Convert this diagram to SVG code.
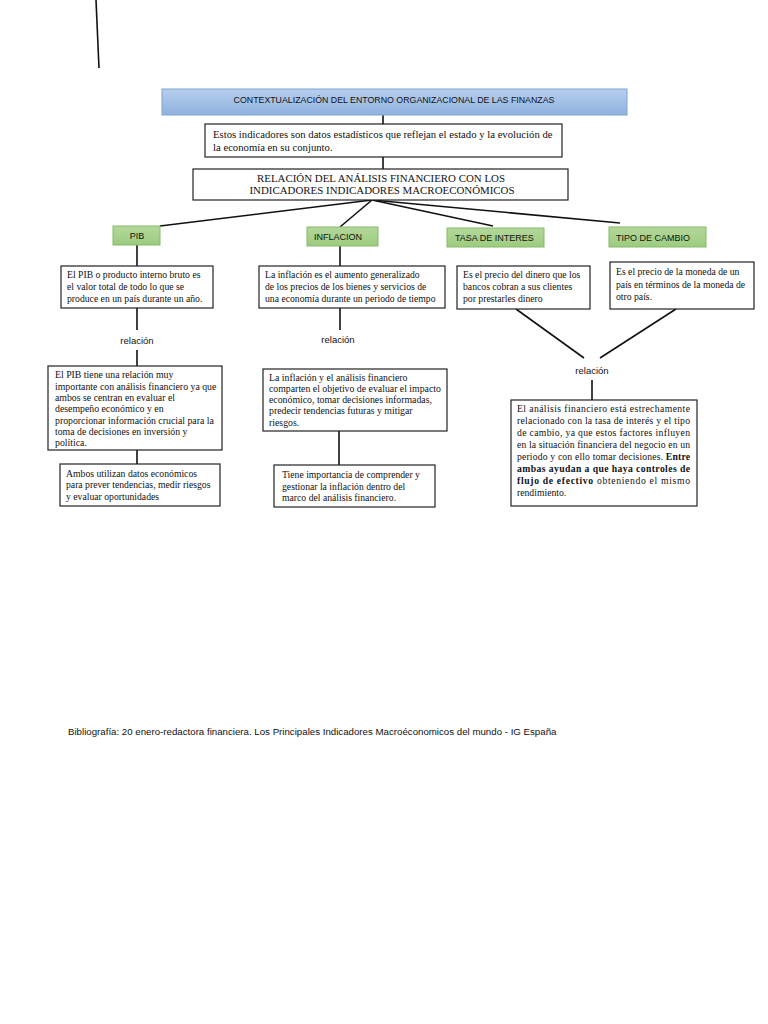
<svg xmlns="http://www.w3.org/2000/svg" width="768" height="1024" viewBox="0 0 768 1024">
<defs>
<linearGradient id="gb" x1="0" y1="0" x2="0" y2="1">
<stop offset="0" stop-color="#b7cfee"/>
<stop offset="1" stop-color="#8fb2e0"/>
</linearGradient>
<linearGradient id="gg" x1="0" y1="0" x2="0" y2="1">
<stop offset="0" stop-color="#b4d89b"/>
<stop offset="1" stop-color="#9ccb7e"/>
</linearGradient>
<style>
.box{fill:#fff;stroke:#222;stroke-width:1.2}
.gbox{fill:url(#gg);stroke:#86b96a;stroke-width:1}
.s{font-family:"Liberation Sans","Open Sans",sans-serif;fill:#111}
.t{font-family:"Liberation Serif","DejaVu Serif",serif;fill:#111;font-size:9.7px}
.c{stroke:#111;stroke-width:1.6;fill:none}
</style>
</defs>
<rect width="768" height="1024" fill="#fff"/>
<line x1="96" y1="0" x2="99" y2="68" stroke="#111" stroke-width="1.6"/>
<g id="connectors">
<line class="c" x1="383" y1="115" x2="383" y2="124"/>
<line class="c" x1="383" y1="157" x2="383" y2="169"/>
<line class="c" x1="372" y1="200" x2="160" y2="226"/>
<line class="c" x1="372" y1="200" x2="340" y2="227"/>
<line class="c" x1="372" y1="200" x2="493" y2="226"/>
<line class="c" x1="372" y1="200" x2="620" y2="223"/>
<line class="c" x1="137" y1="245" x2="137" y2="266"/>
<line class="c" x1="137" y1="308" x2="137" y2="330"/>
<line class="c" x1="137" y1="350" x2="137" y2="366"/>
<line class="c" x1="137" y1="450" x2="137" y2="464"/>
<line class="c" x1="340" y1="246" x2="340" y2="266"/>
<line class="c" x1="340" y1="308" x2="340" y2="330"/>
<line class="c" x1="339" y1="431" x2="339" y2="465"/>
<line class="c" x1="516" y1="309" x2="584" y2="358"/>
<line class="c" x1="676" y1="309" x2="600" y2="358"/>
<line class="c" x1="592" y1="380" x2="592" y2="400"/>
</g>
<g id="title">
<rect x="162" y="89" width="465" height="26" fill="url(#gb)" stroke="#7fa3d0" stroke-width="1"/>
<text class="s" x="394" y="103" font-size="8.8" text-anchor="middle">CONTEXTUALIZACIÓN DEL ENTORNO ORGANIZACIONAL DE LAS FINANZAS</text>
</g>
<g id="intro">
<rect class="box" x="205" y="124" width="357" height="33"/>
<text class="t" style="font-size:10.7px" x="213" y="138">Estos indicadores son datos estadísticos que reflejan el estado y la evolución de</text>
<text class="t" style="font-size:10.7px" x="213" y="151">la economía en su conjunto.</text>
</g>
<g id="relacion-main">
<rect class="box" x="193" y="169" width="375" height="31"/>
<text class="t" style="font-size:10.9px" x="381" y="182" text-anchor="middle">RELACIÓN DEL ANÁLISIS FINANCIERO CON LOS</text>
<text class="t" style="font-size:10.9px" x="382" y="194" text-anchor="middle">INDICADORES INDICADORES MACROECONÓMICOS</text>
</g>
<g id="pib">
<rect class="gbox" x="113" y="226" width="47" height="19"/>
<text class="s" font-size="9" x="137" y="239" text-anchor="middle">PIB</text>
</g>
<g id="inflacion">
<rect class="gbox" x="307" y="227" width="71" height="19"/>
<text class="s" font-size="9" x="314" y="240">INFLACION</text>
</g>
<g id="tasa">
<rect class="gbox" x="447" y="228" width="97" height="19"/>
<text class="s" font-size="9" x="455" y="241">TASA DE INTERES</text>
</g>
<g id="tipo">
<rect class="gbox" x="609" y="227" width="97" height="20"/>
<text class="s" font-size="9" x="616" y="241">TIPO DE CAMBIO</text>
</g>
<g id="pib-def">
<rect class="box" x="61" y="266" width="152" height="42"/>
<text class="t" x="67" y="278">El PIB o producto interno bruto es</text>
<text class="t" x="67" y="290">el valor total de todo lo que se</text>
<text class="t" x="67" y="302">produce en un país durante un año.</text>
</g>
<g id="pib-rel-label">
<text class="s" font-size="9.5" x="137" y="344" text-anchor="middle">relación</text>
</g>
<g id="pib-rel">
<rect class="box" x="48" y="366" width="174" height="84"/>
<text class="t" style="font-size:9.8px" x="55" y="378">El PIB tiene una relación muy</text>
<text class="t" style="font-size:9.8px" x="55" y="390">importante con análisis financiero ya que</text>
<text class="t" style="font-size:9.8px" x="55" y="401">ambos se centran en evaluar el</text>
<text class="t" style="font-size:9.8px" x="55" y="412">desempeño económico y en</text>
<text class="t" style="font-size:9.8px" x="55" y="424">proporcionar información crucial para la</text>
<text class="t" style="font-size:9.8px" x="55" y="435">toma de decisiones en inversión y</text>
<text class="t" style="font-size:9.8px" x="55" y="446">política.</text>
</g>
<g id="pib-uso">
<rect class="box" x="60" y="464" width="160" height="42"/>
<text class="t" x="66" y="477">Ambos utilizan datos económicos</text>
<text class="t" x="66" y="488">para prever tendencias, medir riesgos</text>
<text class="t" x="66" y="500">y evaluar oportunidades</text>
</g>
<g id="infl-def">
<rect class="box" x="259" y="266" width="186" height="42"/>
<text class="t" x="265" y="278">La inflación es el aumento generalizado</text>
<text class="t" x="265" y="290">de los precios de los bienes y servicios de</text>
<text class="t" x="265" y="302">una economía durante un periodo de tiempo</text>
</g>
<g id="infl-rel-label">
<text class="s" font-size="9.5" x="338" y="343" text-anchor="middle">relación</text>
</g>
<g id="infl-rel">
<rect class="box" x="263" y="369" width="184" height="62"/>
<text class="t" style="font-size:9.8px" x="269" y="381">La inflación y el análisis financiero</text>
<text class="t" style="font-size:9.8px" x="269" y="392">comparten el objetivo de evaluar el impacto</text>
<text class="t" style="font-size:9.8px" x="269" y="403">económico, tomar decisiones informadas,</text>
<text class="t" style="font-size:9.8px" x="269" y="414">predecir tendencias futuras y mitigar</text>
<text class="t" style="font-size:9.8px" x="269" y="426">riesgos.</text>
</g>
<g id="infl-uso">
<rect class="box" x="274" y="465" width="161" height="42"/>
<text class="t" x="282" y="478">Tiene importancia de comprender y</text>
<text class="t" x="282" y="490">gestionar la inflación dentro del</text>
<text class="t" x="282" y="501">marco del análisis financiero.</text>
</g>
<g id="tasa-def">
<rect class="box" x="457" y="266" width="133" height="43"/>
<text class="t" x="463" y="278">Es el precio del dinero que los</text>
<text class="t" x="463" y="290">bancos cobran a sus clientes</text>
<text class="t" x="463" y="302">por prestarles dinero</text>
</g>
<g id="tipo-def">
<rect class="box" x="610" y="262" width="144" height="47"/>
<text class="t" x="616" y="275">Es el precio de la moneda de un</text>
<text class="t" x="616" y="288">país en términos de la moneda de</text>
<text class="t" x="616" y="300">otro país.</text>
</g>
<g id="rel-right-label">
<text class="s" font-size="9.5" x="592" y="374" text-anchor="middle">relación</text>
</g>
<g id="rel-right">
<rect class="box" x="511" y="400" width="186" height="106"/>
<text class="t" x="517" y="412" textLength="173" lengthAdjust="spacing">El análisis financiero está estrechamente</text>
<text class="t" x="517" y="424" textLength="173" lengthAdjust="spacing">relacionado con la tasa de interés y el tipo</text>
<text class="t" x="517" y="436" textLength="173" lengthAdjust="spacing">de cambio, ya que estos factores influyen</text>
<text class="t" x="517" y="448" textLength="173" lengthAdjust="spacing">en la situación financiera del negocio en un</text>
<text class="t" x="517" y="460" textLength="173" lengthAdjust="spacing">periodo y con ello tomar decisiones. <tspan font-weight="bold">Entre</tspan></text>
<text class="t" x="517" y="472" textLength="173" lengthAdjust="spacing" font-weight="bold">ambas ayudan a que haya controles de</text>
<text class="t" x="517" y="484" textLength="173" lengthAdjust="spacing"><tspan font-weight="bold">flujo de efectivo</tspan> obteniendo el mismo</text>
<text class="t" x="517" y="496">rendimiento.</text>
</g>
<g id="bibliografia">
<text class="s" font-size="9.7" x="68" y="735">Bibliografía:  20 enero-redactora financiera. Los Principales Indicadores Macroéconomicos del mundo - IG España</text>
</g>
</svg>
